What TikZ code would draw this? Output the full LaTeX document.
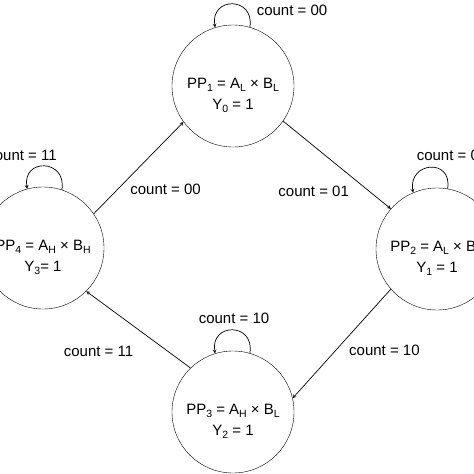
\documentclass[tikz,border=0pt]{standalone}
\usepackage{fontspec}
\setmainfont{Liberation Sans}
\usetikzlibrary{arrows}
\newcommand{\lowidx}[1]{\raisebox{-0.4ex}{\fontsize{10.5bp}{10bp}\selectfont #1}}

\begin{document}
\begin{tikzpicture}[>=stealth,font=\fontsize{15bp}{21bp}\selectfont,
  state/.style={draw,circle,minimum size=122bp,inner sep=0pt},
  inside/.style={align=center,yshift=-9bp},
  cnt/.style={inner sep=0pt}]
\useasboundingbox (0bp,0bp) rectangle (474bp,-474bp);

\node (P1) at (233bp,-86bp)[state,label={[inside]center:PP\lowidx{1} = A\lowidx{L} × B\lowidx{L}\\Y\lowidx{0} = 1}] {};
\node (P2) at (437bp,-249bp)[state,label={[inside]center:PP\lowidx{2} = A\lowidx{L} × B\lowidx{H}\\Y\lowidx{1} = 1}] {};
\node (P3) at (233bp,-412bp)[state,label={[inside]center:PP\lowidx{3} = A\lowidx{H} × B\lowidx{L}\\Y\lowidx{2} = 1}] {};
\node (P4) at (43bp,-248bp)[state,label={[inside]center:PP\lowidx{4} = A\lowidx{H} × B\lowidx{H}\\Y\lowidx{3}= 1}] {};

\draw [->,line width=0.7bp] (P1.74) .. controls +(5bp,31bp) and +(-5bp,31bp) .. (P1.107);
\draw [->,line width=0.7bp] (P2.80) .. controls +(5bp,31bp) and +(-5bp,31bp) .. (P2.113);
\draw [->,line width=0.7bp] (P3.74) .. controls +(5bp,31bp) and +(-5bp,31bp) .. (P3.107);
\draw [->,line width=0.7bp] (P4.72) .. controls +(5bp,31bp) and +(-5bp,31bp) .. (P4.105);
\node (L1) at (292bp,-10bp)[cnt] {count = 00};
\node (L2) at (452bp,-155bp)[cnt] {count = 01};
\node (L3) at (234bp,-318bp)[cnt] {count = 10};
\node (L4) at (22bp,-155bp)[cnt] {count = 11};

\draw [->,line width=0.7bp] (P4.34) -- node[cnt,pos=0.27,right=12bp] {count = 00} (P1.216);
\draw [->,line width=0.7bp] (P1.325) -- node[cnt,pos=0.8,left=20bp] {count = 01} (P2.139);
\draw [->,line width=0.7bp] (P2.221) -- node[cnt,pos=0.56,right=13bp] {count = 10} (P3.13);
\draw [->,line width=0.7bp] (P3.134) -- node[cnt,pos=0.21,left=35bp] {count = 11} (P4.315);
\end{tikzpicture}
\end{document}
